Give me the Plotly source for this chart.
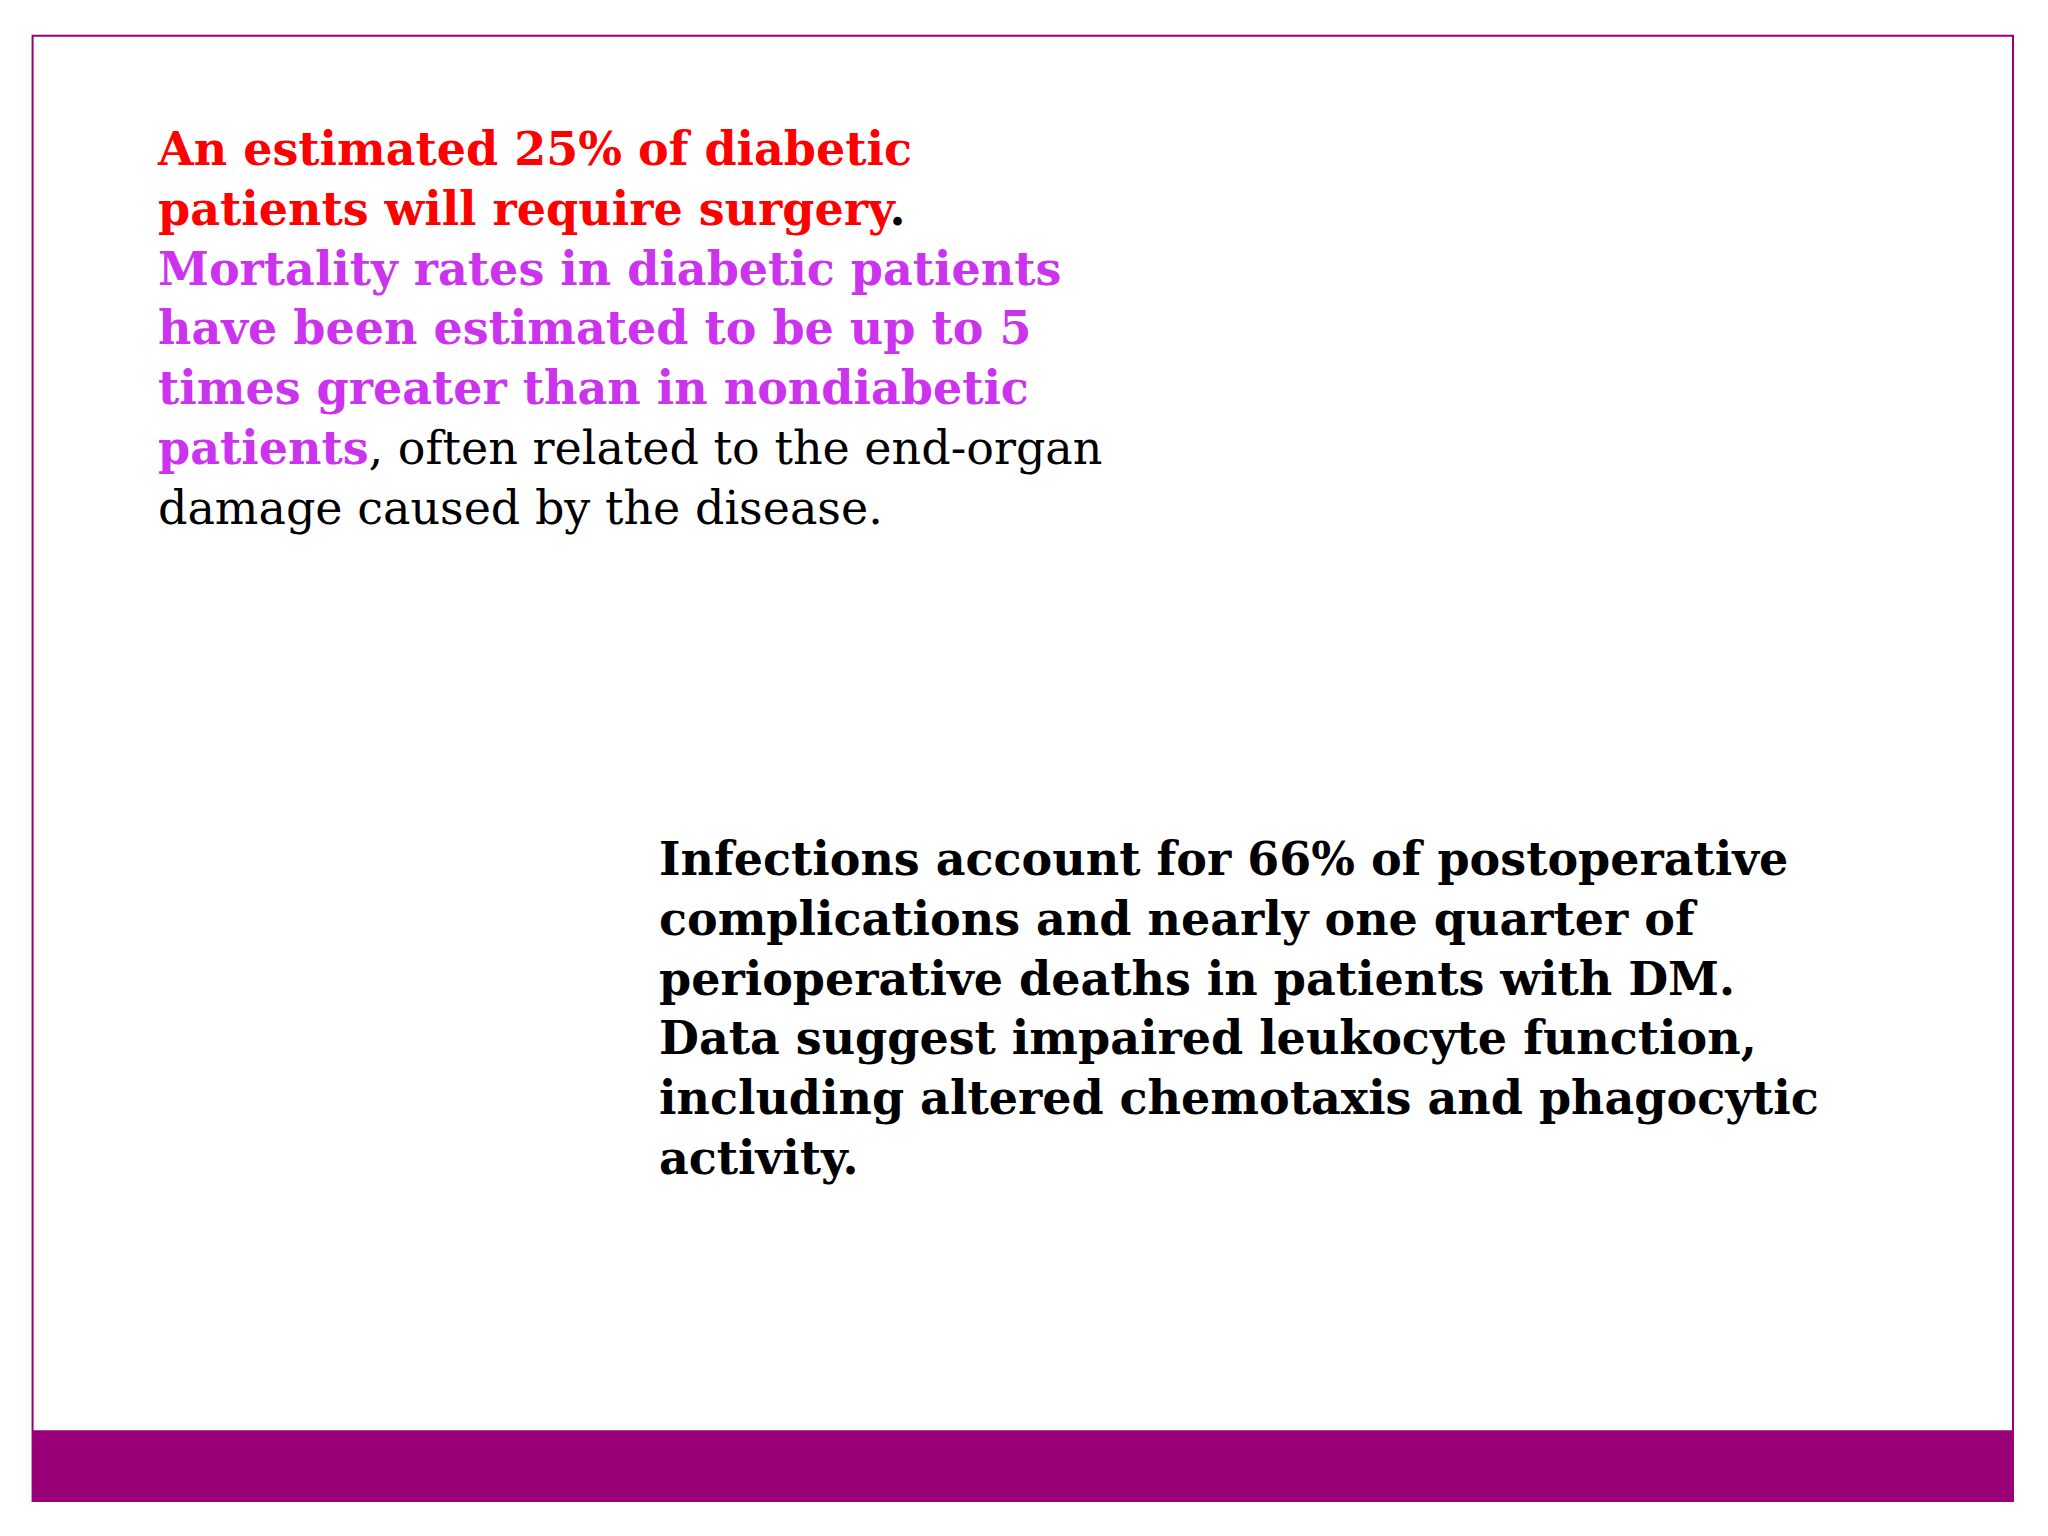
import plotly.graph_objects as go

text1_red = ["An estimated 25% of diabetic", "patients will require surgery"]
text1_mag = ["Mortality rates in diabetic patients", "have been estimated to be up to 5",
             "times greater than in nondiabetic", "patients"]
text1_tail = [", often related to the end-organ", "damage caused by the disease."]
text2 = ["Infections account for 66% of postoperative",
         "complications and nearly one quarter of",
         "perioperative deaths in patients with DM.",
         "Data suggest impaired leukocyte function,",
         "including altered chemotaxis and phagocytic",
         "activity."]

RED = "#ff0000"
MAG = "#cc33ee"
FONT = "DejaVu Serif"
FS = 46

t1 = (f"<span style='color:{RED}'><b>{text1_red[0]}</b></span><br>"
      f"<span style='color:{RED}'><b>{text1_red[1]}</b></span><b>.</b><br>"
      + "".join(f"<span style='color:{MAG}'><b>{l}</b></span><br>" for l in text1_mag[:3])
      + f"<span style='color:{MAG}'><b>{text1_mag[3]}</b></span>{text1_tail[0]}<br>{text1_tail[1]}")
t2 = "<br>".join(f"<b>{l}</b>" for l in text2)

fig = go.Figure()
fig.update_layout(
    width=2048, height=1536, margin=dict(l=0, r=0, t=0, b=0),
    paper_bgcolor="white", plot_bgcolor="white",
    xaxis=dict(visible=False, range=[0, 1]), yaxis=dict(visible=False, range=[0, 1]),
    shapes=[
        dict(type="rect", xref="paper", yref="paper", x0=0.012, x1=0.979, y0=0.028, y1=0.982,
             line=dict(color="#990077", width=2), fillcolor="rgba(0,0,0,0)"),
        dict(type="rect", xref="paper", yref="paper", x0=0.012, x1=0.979, y0=0.028, y1=0.074,
             line=dict(width=0), fillcolor="#990077"),
    ],
    annotations=[
        dict(text=t1, xref="paper", yref="paper", x=0.072, y=0.927, xanchor="left", yanchor="top",
             align="left", showarrow=False, font=dict(family=FONT, size=FS, color="black")),
        dict(text=t2, xref="paper", yref="paper", x=0.317, y=0.465, xanchor="left", yanchor="top",
             align="left", showarrow=False, font=dict(family=FONT, size=FS, color="black")),
    ],
)
fig.write_html("out.html")
